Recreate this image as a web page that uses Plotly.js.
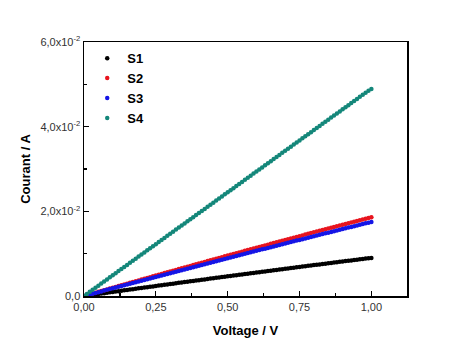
<!DOCTYPE html>
<html>
<head>
<meta charset="utf-8">
<script src="https://cdn.plot.ly/plotly-3.0.1.min.js"></script>
<style>html,body{margin:0;padding:0;background:#fff;}#chart{width:474px;height:355px;}</style>
</head>
<body>
<div id="chart"></div>
<script>
var voltage = [0,0.02,0.04,0.06,0.08,0.10,0.12,0.14,0.16,0.18,0.20,0.22,0.24,0.26,0.28,0.30,0.32,0.34,0.36,0.38,0.40,0.42,0.44,0.46,0.48,0.50,0.52,0.54,0.56,0.58,0.60,0.62,0.64,0.66,0.68,0.70,0.72,0.74,0.76,0.78,0.80,0.82,0.84,0.86,0.88,0.90,0.92,0.94,0.96,0.98,1.00];
var voltageMid = [0.01,0.03,0.05,0.07,0.09,0.11,0.13,0.15,0.17,0.19,0.21,0.23,0.25,0.27,0.29,0.31,0.33,0.35,0.37,0.39,0.41,0.43,0.45,0.47,0.49,0.51,0.53,0.55,0.57,0.59,0.61,0.63,0.65,0.67,0.69,0.71,0.73,0.75,0.77,0.79,0.81,0.83,0.85,0.87,0.89,0.91,0.93,0.95,0.97,0.99];
var s1 = [0,0.000192,0.000383,0.000574,0.000764,0.000954,0.001143,0.001332,0.001521,0.001709,0.001896,0.002083,0.002269,0.002455,0.002641,0.002826,0.003011,0.003195,0.003378,0.003561,0.003744,0.003926,0.004108,0.004289,0.00447,0.00465,0.00483,0.005009,0.005188,0.005366,0.005544,0.005721,0.005898,0.006075,0.006251,0.006426,0.006601,0.006775,0.006949,0.007123,0.007296,0.007469,0.007641,0.007812,0.007983,0.008154,0.008324,0.008494,0.008663,0.008832,0.009];
var s1Mid = [0.000096,0.000288,0.000479,0.000669,0.000859,0.001049,0.001238,0.001427,0.001615,0.001803,0.00199,0.002176,0.002362,0.002548,0.002734,0.002919,0.003103,0.003287,0.00347,0.003653,0.003835,0.004017,0.004199,0.00438,0.00456,0.00474,0.00492,0.005099,0.005277,0.005455,0.005633,0.00581,0.005987,0.006163,0.006339,0.006514,0.006688,0.006862,0.007036,0.00721,0.007383,0.007555,0.007727,0.007898,0.008069,0.008239,0.008409,0.008579,0.008748,0.008916];
var s2 = [0,0.000392,0.000782,0.001172,0.001562,0.00195,0.002338,0.002724,0.00311,0.003496,0.00388,0.004264,0.004646,0.005028,0.00541,0.00579,0.00617,0.006548,0.006926,0.007304,0.00768,0.008056,0.00843,0.008804,0.009178,0.00955,0.009922,0.010292,0.010662,0.011032,0.0114,0.011768,0.012134,0.0125,0.012866,0.01323,0.013594,0.013956,0.014318,0.01468,0.01504,0.0154,0.015758,0.016116,0.016474,0.01683,0.017186,0.01754,0.017894,0.018248,0.0186];
var s2Mid = [0.000196,0.000587,0.000977,0.001367,0.001756,0.002144,0.002531,0.002917,0.003303,0.003688,0.004072,0.004455,0.004837,0.005219,0.0056,0.00598,0.006359,0.006737,0.007115,0.007492,0.007868,0.008243,0.008617,0.008991,0.009364,0.009736,0.010107,0.010477,0.010847,0.011216,0.011584,0.011951,0.012317,0.012683,0.013048,0.013412,0.013775,0.014137,0.014499,0.01486,0.01522,0.015579,0.015937,0.016295,0.016652,0.017008,0.017363,0.017717,0.018071,0.018424];
var s3 = [0,0.000364,0.000727,0.00109,0.001452,0.001813,0.002174,0.002534,0.002894,0.003253,0.003612,0.00397,0.004328,0.004685,0.005041,0.005397,0.005752,0.006107,0.006461,0.006815,0.007168,0.007521,0.007873,0.008224,0.008575,0.008925,0.009275,0.009624,0.009973,0.010321,0.010668,0.011015,0.011361,0.011707,0.012052,0.012397,0.012741,0.013085,0.013428,0.01377,0.014112,0.014453,0.014794,0.015134,0.015474,0.015813,0.016152,0.01649,0.016827,0.017164,0.0175];
var s3Mid = [0.000182,0.000546,0.000909,0.001271,0.001633,0.001994,0.002354,0.002714,0.003074,0.003433,0.003791,0.004149,0.004507,0.004863,0.005219,0.005575,0.00593,0.006284,0.006638,0.006992,0.007345,0.007697,0.008049,0.0084,0.00875,0.0091,0.00945,0.009799,0.010147,0.010495,0.010842,0.011188,0.011534,0.01188,0.012225,0.012569,0.012913,0.013257,0.013599,0.013941,0.014283,0.014624,0.014964,0.015304,0.015644,0.015983,0.016321,0.016659,0.016996,0.017332];
var s4 = [0,0.00098,0.00196,0.00294,0.00392,0.0049,0.00588,0.00686,0.00784,0.00882,0.0098,0.01078,0.01176,0.01274,0.01372,0.0147,0.01568,0.01666,0.01764,0.01862,0.0196,0.02058,0.02156,0.02254,0.02352,0.0245,0.02548,0.02646,0.02744,0.02842,0.0294,0.03038,0.03136,0.03234,0.03332,0.0343,0.03528,0.03626,0.03724,0.03822,0.0392,0.04018,0.04116,0.04214,0.04312,0.0441,0.04508,0.04606,0.04704,0.04802,0.0489];
var s4Mid = [0.00049,0.00147,0.00245,0.00343,0.00441,0.00539,0.00637,0.00735,0.00833,0.00931,0.01029,0.01127,0.01225,0.01323,0.01421,0.01519,0.01617,0.01715,0.01813,0.01911,0.02009,0.02107,0.02205,0.02303,0.02401,0.02499,0.02597,0.02695,0.02793,0.02891,0.02989,0.03087,0.03185,0.03283,0.03381,0.03479,0.03577,0.03675,0.03773,0.03871,0.03969,0.04067,0.04165,0.04263,0.04361,0.04459,0.04557,0.04655,0.04753,0.04851];
var seriesNames = ["S1","S2","S3","S4"];
var seriesColors = ["#000000","#e8141e","#1515e6","#14877a"];
var xTickVals = [0,0.25,0.5,0.75,1.0];
var xTickText = ["0,00","0,25","0,50","0,75","1,00"];
var yTickVals = [0,0.02,0.04,0.06];
var yTickText = ["0,0","2,0x10<sup>-2</sup>","4,0x10<sup>-2</sup>","6,0x10<sup>-2</sup>"];

var mainY = [s1,s2,s3,s4];
var midY = [s1Mid,s2Mid,s3Mid,s4Mid];
var traces = mainY.map(function(y,i){
  return {x: voltage.concat(voltageMid), y: y.concat(midY[i]), name: seriesNames[i], type: 'scatter', mode: 'markers',
    marker: {color: seriesColors[i], size: 4.5, symbol: 'circle'}};
});

var tickFont = {family: 'Liberation Sans, Arial, sans-serif', size: 11, color: '#333'};
var layout = {
  width: 474, height: 355,
  margin: {l: 84, r: 67, t: 42, b: 59},
  paper_bgcolor: '#fff', plot_bgcolor: '#fff',
  showlegend: true,
  legend: {x: 0.01, y: 0.995, xanchor: 'left', yanchor: 'top', bgcolor: 'rgba(0,0,0,0)',
    font: {family: 'Liberation Sans, Arial, sans-serif', size: 13, color: '#000', weight: 'bold'},
    tracegroupgap: 0, itemwidth: 30},
  xaxis: {range: [0, 1.124], tickvals: xTickVals, ticktext: xTickText, ticks: 'inside', ticklen: 5,
    tickwidth: 1.2, tickcolor: '#000', showline: true, linecolor: '#000', linewidth: 1.5, mirror: true,
    showgrid: false, zeroline: false, tickfont: tickFont,
    minor: {tickvals: [0.125,0.375,0.625,0.875,1.125], ticks: 'inside', ticklen: 3, tickwidth: 1.2, tickcolor: '#000', showgrid: false},
    title: {text: 'Voltage / V', font: {family: 'Liberation Sans, Arial, sans-serif', size: 13, color: '#000', weight: 'bold'}, standoff: 14}},
  yaxis: {range: [0, 0.06], tickvals: yTickVals, ticktext: yTickText, ticks: 'inside', ticklen: 5,
    tickwidth: 1.2, tickcolor: '#000', showline: true, linecolor: '#000', linewidth: 1.5, mirror: true,
    showgrid: false, zeroline: false, tickfont: tickFont,
    minor: {tickvals: [0.01,0.03,0.05], ticks: 'inside', ticklen: 3, tickwidth: 1.2, tickcolor: '#000', showgrid: false},
    title: {text: 'Courant / A', font: {family: 'Liberation Sans, Arial, sans-serif', size: 13, color: '#000', weight: 'bold'}, standoff: 7}}
};
Plotly.newPlot('chart', traces, layout, {displayModeBar: false, staticPlot: true});
</script>
</body>
</html>
